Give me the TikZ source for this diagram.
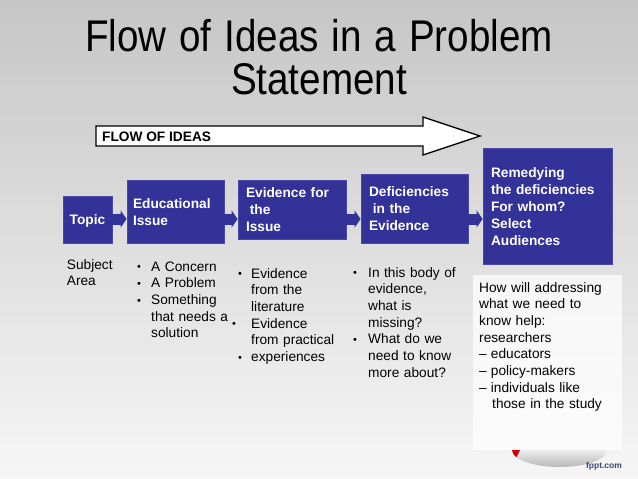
\documentclass[tikz,border=0pt]{standalone}
\usepackage{fontspec}
\setmainfont{Liberation Sans}
\usetikzlibrary{arrows.meta}
\definecolor{bgtop}{RGB}{198,198,198}
\definecolor{bgbot}{RGB}{246,246,246}
\definecolor{boxblue}{RGB}{50,50,152}
\definecolor{boxedge}{RGB}{72,72,168}
\definecolor{logoblue}{RGB}{60,72,112}
\newcommand\bst{\rule[-2pt]{0pt}{14pt}}
\newcommand\bul[1]{\makebox[#1][l]{\fontsize{11}{11}\selectfont\raisebox{0.4pt}{•}}}
\newcommand\ind[1]{\makebox[#1][l]{}}
\newcommand\tstretch[1]{\scalebox{1}[1.15]{#1}}
\tikzset{
  body/.style={font=\fontsize{13.7}{16.7}\selectfont, inner sep=0pt, anchor=base west, text width=130pt, align=left, text=black},
  bluebox/.style={fill=boxblue, draw=boxedge, line width=0.8pt, text=white,
     font=\bfseries\fontsize{13.7}{17}\selectfont, inner ysep=0pt, align=left},
  conn/.style={draw=boxblue, line width=11pt, -{Triangle[width=17pt,length=6pt]}},
  titletext/.style={font=\fontsize{38.6}{43}\selectfont, anchor=base, inner sep=0pt, text width=560pt, align=center}
}
\begin{document}
\begin{tikzpicture}[x=1pt,y=-1pt]
\useasboundingbox (0,0) rectangle (638,479);
\shade[top color=bgtop, bottom color=bgbot] (0,0) rectangle (638,479);

% title
\node[titletext] (title) at (319,52) {\lineskiplimit=-60pt\relax\tstretch{Flow of Ideas in a Problem}\\\tstretch{Statement}};

% big flow arrow
\draw[fill=white, draw=black, line width=1.3pt, line join=miter]
  (96,126) -- (423,126) -- (423,117) -- (480,136) -- (423,155) -- (423,146) -- (96,146) -- cycle;
\node[inner sep=0pt, anchor=base west, font=\bfseries\fontsize{13.7}{16}\selectfont] (flow) at (102,141.5) {FLOW OF IDEAS};

% boxes
\node[bluebox, minimum width=49pt, minimum height=47pt, inner xsep=0pt, align=center] (topic) at (87.5,219.5) {\bst Topic};
\node[bluebox, minimum width=97pt, minimum height=63pt, inner xsep=6pt, text width=85pt] (edu) at (175.5,211.5)
  {\bst Educational\\Issue\bst};
\node[bluebox, minimum width=108pt, minimum height=59pt, inner xsep=8pt, text width=92pt] (ev) at (292,209.5)
  {\bst Evidence for\\\hspace*{0.28em}the\\Issue\bst};
\node[bluebox, minimum width=107pt, minimum height=69pt, inner xsep=8pt, text width=91pt] (def) at (414.5,208.5)
  {\bst Deficiencies\\\hspace*{0.28em}in the\\Evidence\bst};
\node[bluebox, minimum width=129pt, minimum height=116pt, inner xsep=8pt, text width=113pt] (rem) at (547.5,206)
  {\bst Remedying\\the deficiencies\\For whom?\\Select\\Audiences\bst};

% block connectors
\coordinate (lane) at (0,219);
\draw[conn] (topic.east |- lane) -- (edu.west |- lane);
\draw[conn] (edu.east |- lane) -- (ev.west |- lane);
\draw[conn] (ev.east |- lane) -- (def.west |- lane);
\draw[conn] (def.east |- lane) -- (rem.west |- lane);

% logo at the bottom right
\shade[top color=gray!15, bottom color=gray!55] (512,450) arc[start angle=180, end angle=360, x radius=47.5pt, y radius=17pt] -- cycle;
\fill[red!80!black] (512,450) arc[start angle=180, end angle=205, x radius=47.5pt, y radius=17pt] -- (520,450) -- cycle;
\node[inner sep=0pt, font=\bfseries\fontsize{8.5}{9}\selectfont, text=logoblue] (logo) at (604,466) {fppt.com};

% white text panel
\fill[white, fill opacity=0.72] (473,275) rectangle (622,450);

% texts under the boxes
\node[body] (subj) at (66.7,269) {Subject\\Area};
\node[body] (col1) at (137,271)
  {\bul{14pt}A Concern\\\bul{14pt}A Problem\\\bul{14pt}Something\\\ind{14pt}that needs a\\\ind{14pt}solution};
\node[body] (col2) at (238,278)
  {\bul{13pt}Evidence\\\ind{13pt}from the\\\ind{13pt}literature\\\hspace*{-6pt}\bul{19pt}Evidence\\\ind{13pt}from practical\\\bul{13pt}experiences};
\node[body] (col3) at (353,277)
  {\bul{15pt}In this body of\\\ind{15pt}evidence,\\\ind{15pt}what is\\\ind{15pt}missing?\\\bul{15pt}What do we\\\ind{15pt}need to know\\\ind{15pt}more about?};
\node[body] (col4) at (479,292)
  {How will addressing\\what we need to\\know help:\\researchers\\–\hspace*{0.3em}educators\\–\hspace*{0.3em}policy-makers\\–\hspace*{0.3em}individuals like\\\ind{13pt}those in the study};
\end{tikzpicture}
\end{document}
